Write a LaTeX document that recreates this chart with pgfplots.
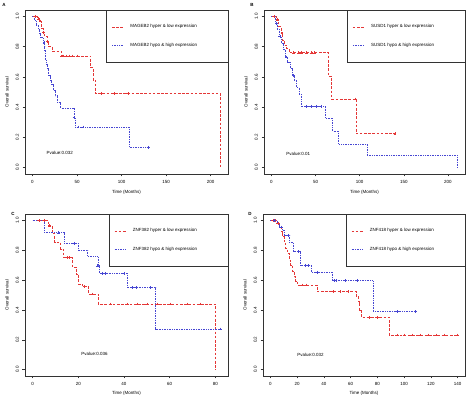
\documentclass[border=0pt]{standalone}
\usepackage{fontspec}
\setmainfont{Liberation Sans}
\usepackage{pgfplots}
\pgfplotsset{compat=1.18}
\definecolor{kmred}{RGB}{228,55,55}
\definecolor{kmblue}{RGB}{70,70,210}
\newcommand\fs{\fontsize{4.5}{5.4}\selectfont}
\pgfplotsset{
  kmaxis/.style={
    scale only axis, width=203bp, height=164bp,
    ymin=-0.043, ymax=1.043,
    ytick={0,0.2,0.4,0.6,0.8,1},
    yticklabel={\pgfmathprintnumber[fixed,fixed zerofill,precision=1]{\tick}},
    tick pos=left, tick align=outside, major tick length=2.5bp,
    axis line style={black!80, line width=0.5bp},
    every tick/.style={black!80, line width=0.5bp},
    ticklabel style={font=\fs},
    yticklabel style={rotate=90, anchor=south},
    /pgf/number format/assume math mode=true,
    xlabel={Time (Months)}, ylabel={Overall survival},
    label style={font=\fs},
    x label style={at={(axis description cs:0.5,-0.11)}, anchor=center},
    y label style={at={(axis description cs:-0.089,0.5)}, anchor=center},
    legend cell align=left,
    legend style={at={(1,1)}, anchor=north east, draw=black!80, line width=0.5bp,
      font=\fs, inner xsep=5bp, inner ysep=12.5bp, row sep=9.5bp},
    legend image code/.code={\draw[#1] (0bp,0bp) -- (11bp,0bp);},
  },
  redline/.style={kmred, line width=0.8bp, dash pattern=on 2.6bp off 1.6bp, const plot, mark=none},
  blueline/.style={kmblue, line width=0.8bp, dash pattern=on 0.8bp off 0.9bp, const plot, mark=none},
  redcens/.style={kmred, only marks, mark=+, mark size=1.4bp, mark options={solid, line width=0.5bp}, forget plot},
  bluecens/.style={kmblue, only marks, mark=+, mark size=1.4bp, mark options={solid, line width=0.5bp}, forget plot},
}
\begin{document}
\begin{tikzpicture}
\useasboundingbox (0,0) rectangle (474bp,399bp);
\node[font=\fs\bfseries] at (4bp,394bp) {A};
\node[font=\fs\bfseries] at (252bp,394bp) {B};
\node[font=\fs\bfseries] at (13bp,185bp) {C};
\node[font=\fs\bfseries] at (250bp,185bp) {D};

% ---------------- A ----------------
\begin{axis}[kmaxis, at={(25bp,389bp)}, anchor=north west,
  xmin=-8.4, xmax=219.4, xtick={0,50,100,150,200}]
\addplot[redline] coordinates {(0,1) (5.6,0.985) (7.4,0.97) (10,0.92) (11.9,0.895) (13.8,0.866) (16.4,0.833) (18.2,0.80) (21.9,0.77) (32.3,0.739) (65.5,0.66) (68,0.58) (70.6,0.49) (210.8,0)};
\addlegendentry{\hspace*{5bp}MAGEB2 hyper \& low expression\hspace*{24bp}}
\addplot[blueline] coordinates {(0,1) (2.6,0.972) (4.5,0.944) (6.3,0.916) (8,0.888) (9.3,0.86) (11.9,0.826) (13.2,0.80) (13.8,0.777) (14.5,0.744) (14.9,0.71) (15.7,0.68) (16.4,0.654) (18.2,0.609) (20.4,0.58) (21.5,0.547) (23,0.509) (25.7,0.475) (27.9,0.43) (31.6,0.393) (46.5,0.33) (48,0.268) (108.5,0.134) (130,0.134)};
\addlegendentry{\hspace*{5bp}MAGEB2 hypo \& high expression}
\addplot[redcens] coordinates {(3.5,1.0) (6.5,0.985) (9,0.97) (12.5,0.895) (17,0.833) (33,0.739) (35,0.739) (38,0.739) (41,0.739) (45,0.739) (50,0.739) (77,0.49) (92,0.49) (107,0.49)};
\addplot[bluecens] coordinates {(13,0.826) (46.5,0.33) (51,0.268) (56.5,0.268) (130,0.134)};
\node[font=\fs] at (axis cs:30.5,0.096) {Pvalue:0.032};
\end{axis}

% ---------------- B ----------------
\begin{axis}[kmaxis, at={(264bp,389bp)}, anchor=north west, width=201bp,
  xmin=-8.4, xmax=219.4, xtick={0,50,100,150,200}]
\addplot[redline] coordinates {(0,1) (5.6,0.978) (8.2,0.933) (10.8,0.888) (13,0.844) (14.9,0.81) (17.5,0.788) (20,0.759) (65,0.603) (68.4,0.453) (96.3,0.223) (140,0.223)};
\addlegendentry{\hspace*{5bp}SUSD1 hyper \& low expression\hspace*{24bp}}
\addplot[blueline] coordinates {(0,1) (4.5,0.955) (6.3,0.915) (8.9,0.866) (11.2,0.821) (13.8,0.781) (16.4,0.732) (18.6,0.699) (21.2,0.654) (23.8,0.609) (26,0.576) (28.6,0.531) (31.2,0.487) (33.5,0.406) (61.3,0.326) (69.5,0.241) (76.2,0.156) (108.5,0.08) (210.8,0)};
\addlegendentry{\hspace*{5bp}SUSD1 hypo \& high expression}
\addplot[redcens] coordinates {(3,1) (7,0.978) (12,0.888) (25,0.759) (30.5,0.759) (34,0.759) (40,0.759) (45,0.759) (49,0.759) (95.5,0.453) (140,0.223)};
\addplot[bluecens] coordinates {(6,0.955) (9.5,0.866) (17,0.732) (25,0.609) (40,0.406) (45,0.406) (51,0.406) (56,0.406)};
\node[font=\fs] at (axis cs:30.5,0.09) {Pvalue:0.01};
\end{axis}

% ---------------- C ----------------
\begin{axis}[kmaxis, at={(25bp,185bp)}, anchor=north west, height=162bp,
  xmin=-3.3, xmax=85.5, xtick={0,20,40,60,80}]
\addplot[redline] coordinates {(0,1) (6.8,0.964) (8.6,0.915) (9.7,0.853) (12.3,0.808) (13.5,0.752) (17.4,0.685) (19.1,0.641) (20.1,0.574) (22,0.558) (24.5,0.507) (28.8,0.44) (80,0)};
\addlegendentry{\hspace*{5bp}ZNF382 hyper \& low expression\hspace*{24bp}}
\addplot[blueline] coordinates {(0,1) (5.4,0.917) (14.1,0.846) (19.9,0.80) (24.2,0.757) (28.6,0.696) (29.3,0.645) (41.6,0.549) (53.9,0.272) (82.2,0.272)};
\addlegendentry{\hspace*{5bp}ZNF382 hypo \& high expression}
\addplot[redcens] coordinates {(3,1) (5,1) (7.5,0.964) (15,0.752) (16,0.752) (22.5,0.558) (26,0.507) (34,0.44) (41.6,0.44) (46,0.44) (50,0.44) (54.6,0.44) (60.4,0.44) (67.7,0.44) (73.5,0.44)};
\addplot[bluecens] coordinates {(11.2,0.917) (18.4,0.846) (28.5,0.696) (30.5,0.645) (32,0.645) (40,0.645) (43.8,0.549) (45.2,0.549) (51.7,0.549) (82.2,0.272)};
\node[font=\fs] at (axis cs:27.1,0.103) {Pvalue:0.036};
\end{axis}

% ---------------- D ----------------
\begin{axis}[kmaxis, at={(263bp,185bp)}, anchor=north west, width=202bp, height=162bp,
  xmin=-5.6, xmax=145.6, xtick={0,20,40,60,80,100,120,140}]
\addplot[redline] coordinates {(0,1) (4.5,0.98) (6.6,0.958) (7.9,0.924) (9.1,0.89) (10.3,0.857) (11.5,0.8125) (12.8,0.779) (14,0.734) (15.2,0.701) (16.5,0.656) (17.7,0.623) (18.9,0.589) (20.1,0.567) (34.9,0.522) (64.4,0.489) (65.6,0.455) (66.8,0.40) (68.1,0.35) (88.9,0.232) (139.8,0.232)};
\addlegendentry{\hspace*{5bp}ZNF418 hyper \& low expression\hspace*{24bp}}
\addplot[blueline] coordinates {(0,1) (5,0.978) (7,0.956) (9,0.934) (10.5,0.90) (14.5,0.85) (17.5,0.79) (22.6,0.70) (30.5,0.652) (46.7,0.596) (76.7,0.39) (108.6,0.39)};
\addlegendentry{\hspace*{5bp}ZNF418 hypo \& high expression}
\addplot[redcens] coordinates {(2,1) (3.5,1) (6,0.98) (24,0.567) (27,0.567) (47,0.522) (52,0.522) (58,0.522) (74,0.35) (80,0.35) (95,0.232) (100,0.232) (106,0.232) (112,0.232) (118,0.232) (124,0.232) (130,0.232) (139.8,0.232)};
\addplot[bluecens] coordinates {(3,1) (8,0.956) (13,0.90) (21,0.79) (26,0.70) (28,0.70) (35,0.652) (47.5,0.596) (49,0.596) (56,0.596) (65,0.596) (95,0.39) (108.6,0.39)};
\node[font=\fs] at (axis cs:30,0.098) {Pvalue:0.032};
\end{axis}
\end{tikzpicture}
\end{document}
